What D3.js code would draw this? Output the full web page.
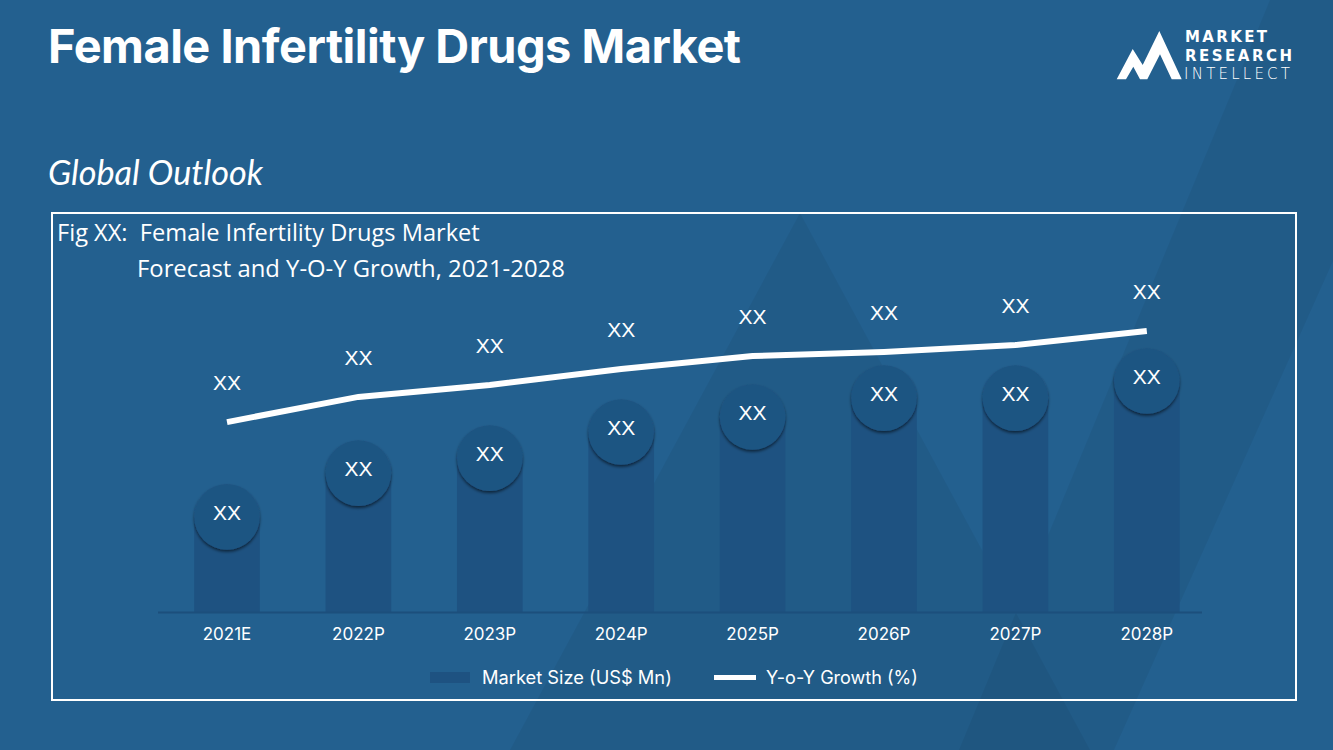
<!DOCTYPE html>
<html>
<head>
<meta charset="utf-8">
<script src="https://cdn.jsdelivr.net/npm/d3@7"></script>
<style>
  html, body { margin: 0; padding: 0; background: #23608f; }
  svg { display: block; }
</style>
</head>
<body>
<svg id="chart" width="1333" height="750"></svg>
<script>
// ---- data ----
const categories = ["2021E", "2022P", "2023P", "2024P", "2025P", "2026P", "2027P", "2028P"];
const marketSize = [31.7, 46.3, 51.3, 60, 65, 71.3, 71.3, 77];      // relative bar heights
const yoyGrowth  = [63.3, 71.7, 75.7, 81, 85.3, 86.7, 89, 93.7];    // relative line heights
const barLabels  = ["XX", "XX", "XX", "XX", "XX", "XX", "XX", "XX"];
const lineLabels = ["XX", "XX", "XX", "XX", "XX", "XX", "XX", "XX"];
const legendItems = ["Market Size (US$ Mn)", "Y-o-Y Growth (%)"];

const BG = "#23608f", BAR = "#1e5281", CIRCLE = "#1f5482";

const svg = d3.select("#chart");

function fitWidth(sel, w) {
  const l = sel.node().getComputedTextLength();
  const fs = parseFloat(sel.attr("font-size"));
  sel.attr("font-size", (fs * w / l).toFixed(2));
}

// background
svg.append("rect").attr("width", 1333).attr("height", 750).attr("fill", BG);
svg.append("polygon").attr("points", "800,213 1090,750 510,750").attr("fill", "#000").attr("opacity", 0.05);
svg.append("polygon").attr("points", "1270,0 1333,0 1333,261 1114,750 959,750").attr("fill", "#000").attr("opacity", 0.05);

const defs = svg.append("defs");
const f = defs.append("filter").attr("id", "shadow").attr("x", "-30%").attr("y", "-30%").attr("width", "160%").attr("height", "160%");
f.append("feDropShadow").attr("dx", 0).attr("dy", 2).attr("stdDeviation", 1.5).attr("flood-color", "#000").attr("flood-opacity", 0.55);

// title
const title = svg.append("text").attr("x", 48).attr("y", 63).attr("fill", "#fff")
  .attr("font-family", "Inter, Roboto, sans-serif").attr("font-weight", 700).attr("font-size", 40)
  .attr("letter-spacing", -0.5)
  .text("Female Infertility Drugs Market");
fitWidth(title, 690);

// logo
svg.append("polygon")
  .attr("points", "1116.7,79.3 1132.7,49 1142.7,65 1159.3,31 1181.7,79.3 1171.7,79.3 1160,54.3 1147.3,79.3 1140,79.3 1133.3,66.7 1126,79.3")
  .attr("fill", "#fff");
const logoFont = "'DejaVu Sans', 'Noto Sans', sans-serif";
svg.append("text").attr("x", 1185).attr("y", 42).attr("fill", "#fff").attr("font-family", logoFont)
  .attr("font-weight", 700).attr("font-size", 15).attr("textLength", 82).attr("lengthAdjust", "spacing").text("MARKET");
svg.append("text").attr("x", 1185).attr("y", 61).attr("fill", "#fff").attr("font-family", logoFont)
  .attr("font-weight", 700).attr("font-size", 15).attr("textLength", 107).attr("lengthAdjust", "spacing").text("RESEARCH");
svg.append("text").attr("x", 1184).attr("y", 79).attr("fill", "#fff").attr("font-family", logoFont)
  .attr("font-weight", 300).attr("font-size", 15).attr("textLength", 106).attr("lengthAdjust", "spacing").text("INTELLECT");

// subtitle
const sub = svg.append("text").attr("x", 48).attr("y", 185).attr("fill", "#fff")
  .attr("font-family", "Lato, sans-serif").attr("font-style", "italic").attr("font-size", 30)
  .text("Global Outlook");
fitWidth(sub, 215);

// frame
svg.append("rect").attr("x", 52).attr("y", 213).attr("width", 1244).attr("height", 487)
  .attr("fill", "none").attr("stroke", "#fff").attr("stroke-width", 2);

const figFont = "'Open Sans', sans-serif";
const fig1 = svg.append("text").attr("x", 57).attr("y", 241).attr("fill", "#fff")
  .attr("font-family", figFont).attr("font-size", 21).attr("xml:space", "preserve")
  .text("Fig XX:  Female Infertility Drugs Market");
fitWidth(fig1, 423);
const fig2 = svg.append("text").attr("x", 137).attr("y", 277).attr("fill", "#fff")
  .attr("font-family", figFont).attr("font-size", 21)
  .text("Forecast and Y-O-Y Growth, 2021-2028");
fitWidth(fig2, 428);

// scales
const x = d3.scaleBand().domain(categories).range([161.3, 1212.5]).paddingInner(0.5).paddingOuter(0.25);
const yBar = d3.scaleLinear().domain([0, 100]).range([612, 312]);
const yLine = d3.scaleLinear().domain([0, 100]).range([612, 312]);
const bw = x.bandwidth();
const cx = d => x(d) + bw / 2;

const plot = svg.append("g");

// bars
plot.selectAll("rect.bar").data(categories).join("rect").attr("class", "bar")
  .attr("x", d => x(d)).attr("width", bw)
  .attr("y", (d, i) => yBar(marketSize[i]))
  .attr("height", (d, i) => yBar(0) - yBar(marketSize[i]))
  .attr("fill", BAR);

// axis
const axis = svg.append("g").attr("transform", `translate(0,${yBar(0)})`)
  .call(d3.axisBottom(x).tickSize(0).tickPadding(16));
axis.select(".domain").attr("stroke", "#1c4f7c").attr("stroke-width", 2).attr("d", "M158,0.5H1202");
axis.selectAll("text").attr("fill", "#fff").attr("font-family", "Inter, sans-serif")
  .attr("font-weight", 400).attr("font-size", 17);

// circles
plot.selectAll("circle.top").data(categories).join("circle").attr("class", "top")
  .attr("cx", cx).attr("cy", (d, i) => yBar(marketSize[i])).attr("r", bw / 2)
  .attr("fill", CIRCLE).attr("filter", "url(#shadow)");
plot.selectAll("text.barlab").data(categories).join("text").attr("class", "barlab")
  .attr("x", cx).attr("y", (d, i) => yBar(marketSize[i]) + 3)
  .attr("text-anchor", "middle").attr("fill", "#fff")
  .attr("font-family", "'Liberation Sans', Arial, sans-serif").attr("font-size", 21)
  .text((d, i) => barLabels[i]);

// growth line
const line = d3.line().x(d => cx(d)).y((d, i) => yLine(yoyGrowth[i]));
plot.append("path").datum(categories).attr("d", line)
  .attr("fill", "none").attr("stroke", "#fff").attr("stroke-width", 6);
plot.selectAll("text.linelab").data(categories).join("text").attr("class", "linelab")
  .attr("x", cx).attr("y", (d, i) => yLine(yoyGrowth[i]) - 32)
  .attr("text-anchor", "middle").attr("fill", "#fff")
  .attr("font-family", "'Liberation Sans', Arial, sans-serif").attr("font-size", 21)
  .text((d, i) => lineLabels[i]);

// legend
const lg = svg.append("g");
lg.append("rect").attr("x", 430).attr("y", 672).attr("width", 40).attr("height", 11).attr("fill", BAR);
const lt1 = lg.append("text").attr("x", 482).attr("y", 684).attr("fill", "#fff")
  .attr("font-family", "Inter, sans-serif").attr("font-size", 16.5).text(legendItems[0]);
fitWidth(lt1, 190);
lg.append("line").attr("x1", 714).attr("x2", 756).attr("y1", 677.5).attr("y2", 677.5)
  .attr("stroke", "#fff").attr("stroke-width", 5);
const lt2 = lg.append("text").attr("x", 766).attr("y", 684).attr("fill", "#fff")
  .attr("font-family", "Inter, sans-serif").attr("font-size", 16.5).text(legendItems[1]);
fitWidth(lt2, 152);
</script>
</body>
</html>
